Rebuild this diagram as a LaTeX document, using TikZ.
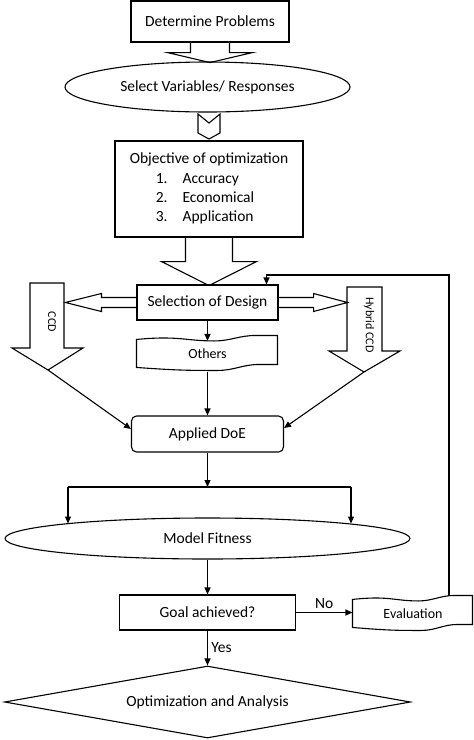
\documentclass[tikz,border=0pt]{standalone}
\usepackage{fontspec}
\setmainfont{Carlito}
\usetikzlibrary{shapes.geometric,arrows.meta}

\tikzset{
  box/.style={draw, rectangle, inner sep=0pt},
  big/.style={font=\fontsize{15.5}{19.3}\selectfont},
  small/.style={font=\fontsize{14}{16}\selectfont},
  tiny/.style={font=\fontsize{12}{14}\selectfont},
}

\begin{document}
\begin{tikzpicture}[x=1pt, y=-1pt, line width=1.1pt, >={Triangle[length=7pt,width=6pt]}, big]
    \useasboundingbox (0,0) rectangle (474,740);

    \node[box, minimum width=158pt, minimum height=41pt] (dp) at (210,21.5) {Determine Problems};
    \draw ([xshift=-19.5pt]dp.south) -- ++(0,10) -- ++(-23,0) -- ++(42.5,10) -- ++(42.5,-10) -- ++(-23,0) -- ([xshift=19.5pt]dp.south);

    \node[ellipse, draw, minimum width=285pt, minimum height=50pt, inner sep=0pt] (sv) at (207.5,87) {Select Variables/ Responses};
    \draw (198,114) -- (209,123) -- (220,114) -- (220,133) -- (209,139) -- (198,133) -- cycle;

    \node[box, minimum width=188pt, minimum height=96pt] (ob) at (209,189) {%
        \begin{tabular}{@{}l@{\hspace{15pt}}l@{}}
            \multicolumn{2}{@{}l@{}}{Objective of optimization}\\
            \hspace*{26pt}1. & Accuracy\\
            \hspace*{26pt}2. & Economical\\
            \hspace*{26pt}3. & Application
        \end{tabular}};
    \draw ([xshift=-23.5pt]ob.south) -- ++(0,24) -- ++(-24,0) -- ++(47.5,24) -- ++(47.5,-24) -- ++(-24,0) -- ([xshift=23.5pt]ob.south);

    \node[box, minimum width=141pt, minimum height=35pt] (sd) at (207.5,302.5) {Selection of Design};
    \draw ([yshift=5pt]sd.west) -- ++(-35,0) -- ++(0,-4) -- ++(-36,9) -- ++(36,9) -- ++(0,-4) -- ([yshift=-5pt]sd.west);
    \draw ([yshift=5pt]sd.east) -- ++(35,0) -- ++(0,-4) -- ++(34,9) -- ++(-34,9) -- ++(0,-4) -- ([yshift=-5pt]sd.east);

    % side designs
    \draw (30,283) -- (64,283) -- (64,348) -- (83,348) -- (48,370) -- (12,348) -- (30,348) -- cycle;
    \coordinate (ccd) at (48,370);
    \node[tiny, rotate=-90] (ccdtxt) at (52,322) {CCD};
    \draw (347,287) -- (382,287) -- (382,351) -- (400,351) -- (364,372) -- (329,351) -- (347,351) -- cycle;
    \coordinate (hyb) at (364,372);
    \node[tiny, rotate=-90] (hybtxt) at (369,325) {Hybrid CCD};

    \node[small, minimum width=141pt, minimum height=28pt, inner sep=0pt] (ot) at (207.5,354) {Others};
    \draw (ot.north west) .. controls +(42,-4) and +(-28,0) .. ++(77.5,1.5) .. controls +(17,0) and +(-17,0) .. ++(42,-5.5) -- ++(21.5,0) -- ++(0,29)
        -- ++(-18,0) .. controls +(-17,0) and +(17,0) .. ++(-42,6) .. controls +(-28,0) and +(42,3) .. ++(-81,-3) -- cycle;

    \node[box, rounded corners=5pt, minimum width=152pt, minimum height=36pt] (ad) at (207.5,434) {Applied DoE};

    \node[ellipse, draw, minimum width=405pt, minimum height=41pt, inner sep=0pt] (mf) at (207.5,538.5) {Model Fitness};

    \node[box, minimum width=176pt, minimum height=35pt] (gl) at (207.5,612.5) {Goal achieved?};

    \node[small, minimum width=120pt, minimum height=28pt, inner sep=0pt] (ev) at (413,614) {Evaluation};
    \draw (ev.north west) .. controls +(36,-4) and +(-24,0) .. ++(66,1.5) .. controls +(14,0) and +(-14,0) .. ++(36,-5.5) -- ++(18,0) -- ++(0,29)
        -- ++(-15,0) .. controls +(-14,0) and +(14,0) .. ++(-36,6) .. controls +(-24,0) and +(36,3) .. ++(-69,-3) -- cycle;

    \node[diamond, draw, aspect=5.64, minimum width=406pt, minimum height=72pt, inner sep=0pt] (oa) at (207.5,702) {Optimization and Analysis};

    \coordinate (back) at (449,275);
    \coordinate (jl) at (68,487);
    \coordinate (jr) at (351,487);

    \draw[->] (sd.south) -- ([yshift=-1.5pt]ot.north);
    \draw[->] ([yshift=-3pt]ot.south) -- (ad.north);
    \draw[->] (ccd) -- ([yshift=5pt]ad.west);
    \draw[->] (hyb) -- ([yshift=6pt]ad.east);
    \draw[->] (ad.south) -- (ad.south |- jl);
    \draw (jl) -- (jr);
    \draw[->] (jl) -- (jl |- mf.174);
    \draw[->] (jr) -- (jr |- mf.6);
    \draw[->] (mf.south) -- (gl.north);
    \draw[->] (gl.east) -- (gl.east -| ev.west) node[midway, above] {No};
    \draw[->] (gl.south) -- (oa.north) node[midway, right] {Yes};
    \draw[->] ([xshift=36pt,yshift=3.5pt]ev.north) -- (back) -| ([xshift=59pt]sd.north);
\end{tikzpicture}
\end{document}
